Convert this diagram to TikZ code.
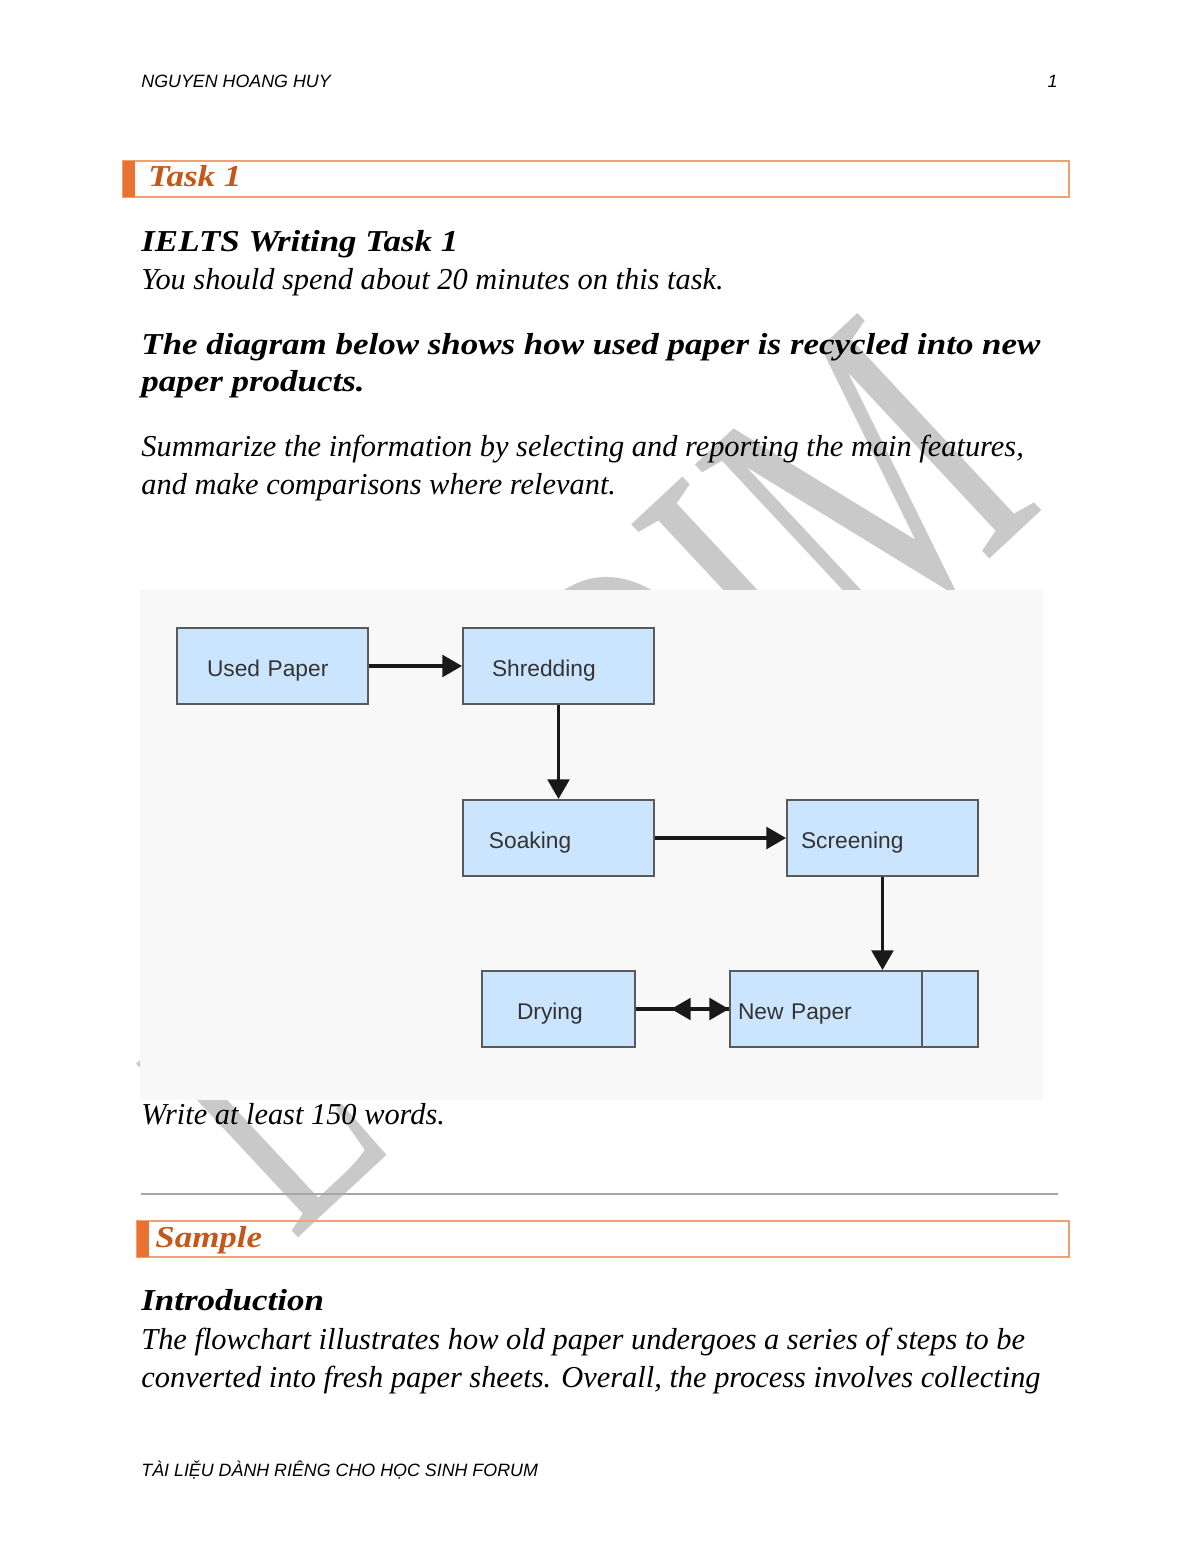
\documentclass[tikz,border=0pt]{standalone}
\usepackage{fontspec}
\setmainfont{Liberation Serif}
\setsansfont{Liberation Sans}
\newfontfamily\headserif[FakeStretch=1.15]{Liberation Serif}
\newfontfamily\markserif[FakeStretch=0.65]{Liberation Serif}
\usetikzlibrary{calc,positioning,arrows.meta}
\definecolor{barorange}{HTML}{E97132}
\definecolor{frameorange}{HTML}{F4A06E}
\definecolor{titleorange}{HTML}{C4581A}
\definecolor{panelgray}{HTML}{F8F8F8}
\definecolor{boxfill}{HTML}{CCE5FF}
\definecolor{boxline}{HTML}{5A5A5A}
\definecolor{boxtext}{HTML}{333333}
\definecolor{wmgray}{HTML}{C9C9C9}
\definecolor{rulegray}{HTML}{A6A6A6}
\tikzset{
  bodytext/.style={anchor=base west, inner sep=0pt, font=\fontsize{15.5}{18}\selectfont\itshape},
  headtext/.style={anchor=base west, inner sep=0pt, font=\headserif\fontsize{15.5}{18}\selectfont\bfseries\itshape},
  pagefont/.style={anchor=base west, inner sep=0pt, font=\sffamily\itshape\fontsize{9.1}{11}\selectfont},
  sectitle/.style={headtext, text=titleorange},
  secframe/.style={draw=frameorange, line width=1pt},
  wmark/.style={text=wmgray, inner sep=0pt, rotate=43, font=\markserif\fontsize{#1}{#1}\selectfont},
  stepbox/.style={draw=boxline, fill=boxfill, line width=1pt, minimum height=38.76pt,
    align=left, text=boxtext, text height=10.2pt, text depth=0pt,
    font=\sffamily\fontsize{11.6}{14}\selectfont},
  flow/.style={draw=black!90, line width=1.8pt, -{Triangle[length=10pt,width=11pt]}}
}
\begin{document}
\begin{tikzpicture}[x=0.51pt,y=-0.51pt]
\useasboundingbox[fill=white] (0,0) rectangle (1200,1553);

% watermark
\node[wmark=185, anchor=base west] (wmL) at (293,1243) {L};
\node[wmark=210, anchor=base east] (wmD) at (1048,505) {DIM};

% header
\node[pagefont] (author) at (141,88) {NGUYEN HOANG HUY};
\node[pagefont, anchor=base east] (pagenum) at (1058,88) {1};

% task heading
\draw[secframe, fill=white] (123,161) rectangle (1069,197);
\fill[barorange] (123,161) rectangle (135,197);
\node[sectitle] (tasklabel) at (148,187) {Task 1};

% prompt
\node[headtext] (ielts) at (141,251) {IELTS Writing Task 1};
\node[bodytext] (spend) at (141,289) {You should spend about 20 minutes on this task.};
\node[headtext] (prompta) at (141,354) {The diagram below shows how used paper is recycled into new};
\node[headtext] (promptb) at (141,391) {paper products.};
\node[bodytext] (summa) at (141,456) {Summarize the information by selecting and reporting the main features,};
\node[bodytext] (summb) at (141,494) {and make comparisons where relevant.};

% flowchart
\fill[panelgray] (140,590) rectangle (1043,1100);
\node[stepbox, text width=66.8pt, inner xsep=15.3pt] (usedpaper) at (272.5,666) {Used Paper};
\node[stepbox, text width=67.8pt, inner xsep=14.8pt] (shredding) at (558.5,666) {Shredding};
\node[stepbox, text width=70.9pt, inner xsep=13.26pt] (soaking) at (558.5,838) {Soaking};
\node[stepbox, text width=83.1pt, inner xsep=7.14pt] (screening) at (882.5,838) {Screening};
\node[stepbox, text width=42.3pt, inner xsep=17.85pt] (drying) at (558.5,1009) {Drying};
\node[stepbox, text width=118.3pt, inner xsep=4.08pt] (newpaper) at (854,1009) {New Paper};
\draw[boxline, line width=1pt] ($(newpaper.north east)+(-57,0)$) -- ($(newpaper.south east)+(-57,0)$);
\coordinate (dryback) at ($(newpaper.west)+(-58,0)$);

\draw[flow] (usedpaper) -- (shredding);
\draw[flow] (shredding) -- (soaking);
\draw[flow] (soaking) -- (screening);
\draw[flow] (screening.south) -- (screening.south |- newpaper.north);
\draw[flow] (drying) -- (newpaper);
\draw[flow] (newpaper.west) -- (dryback);

\node[bodytext] (wordcount) at (141,1124) {Write at least 150 words.};
\draw[rulegray, line width=0.8pt] (141,1194) -- (1058,1194);

% sample heading
\draw[secframe] (137,1221) rectangle (1069,1257);
\fill[barorange] (137,1221) rectangle (149,1257);
\node[sectitle] (samplelabel) at (155,1247) {Sample};

% answer
\node[headtext] (intro) at (141,1310) {Introduction};
\node[bodytext] (introa) at (141,1349) {The flowchart illustrates how old paper undergoes a series of steps to be};
\node[bodytext] (introb) at (141,1387) {converted into fresh paper sheets. Overall, the process involves collecting};

% footer
\node[pagefont] (footer) at (141,1476) {TÀI LIỆU DÀNH RIÊNG CHO HỌC SINH FORUM};
\end{tikzpicture}
\end{document}
